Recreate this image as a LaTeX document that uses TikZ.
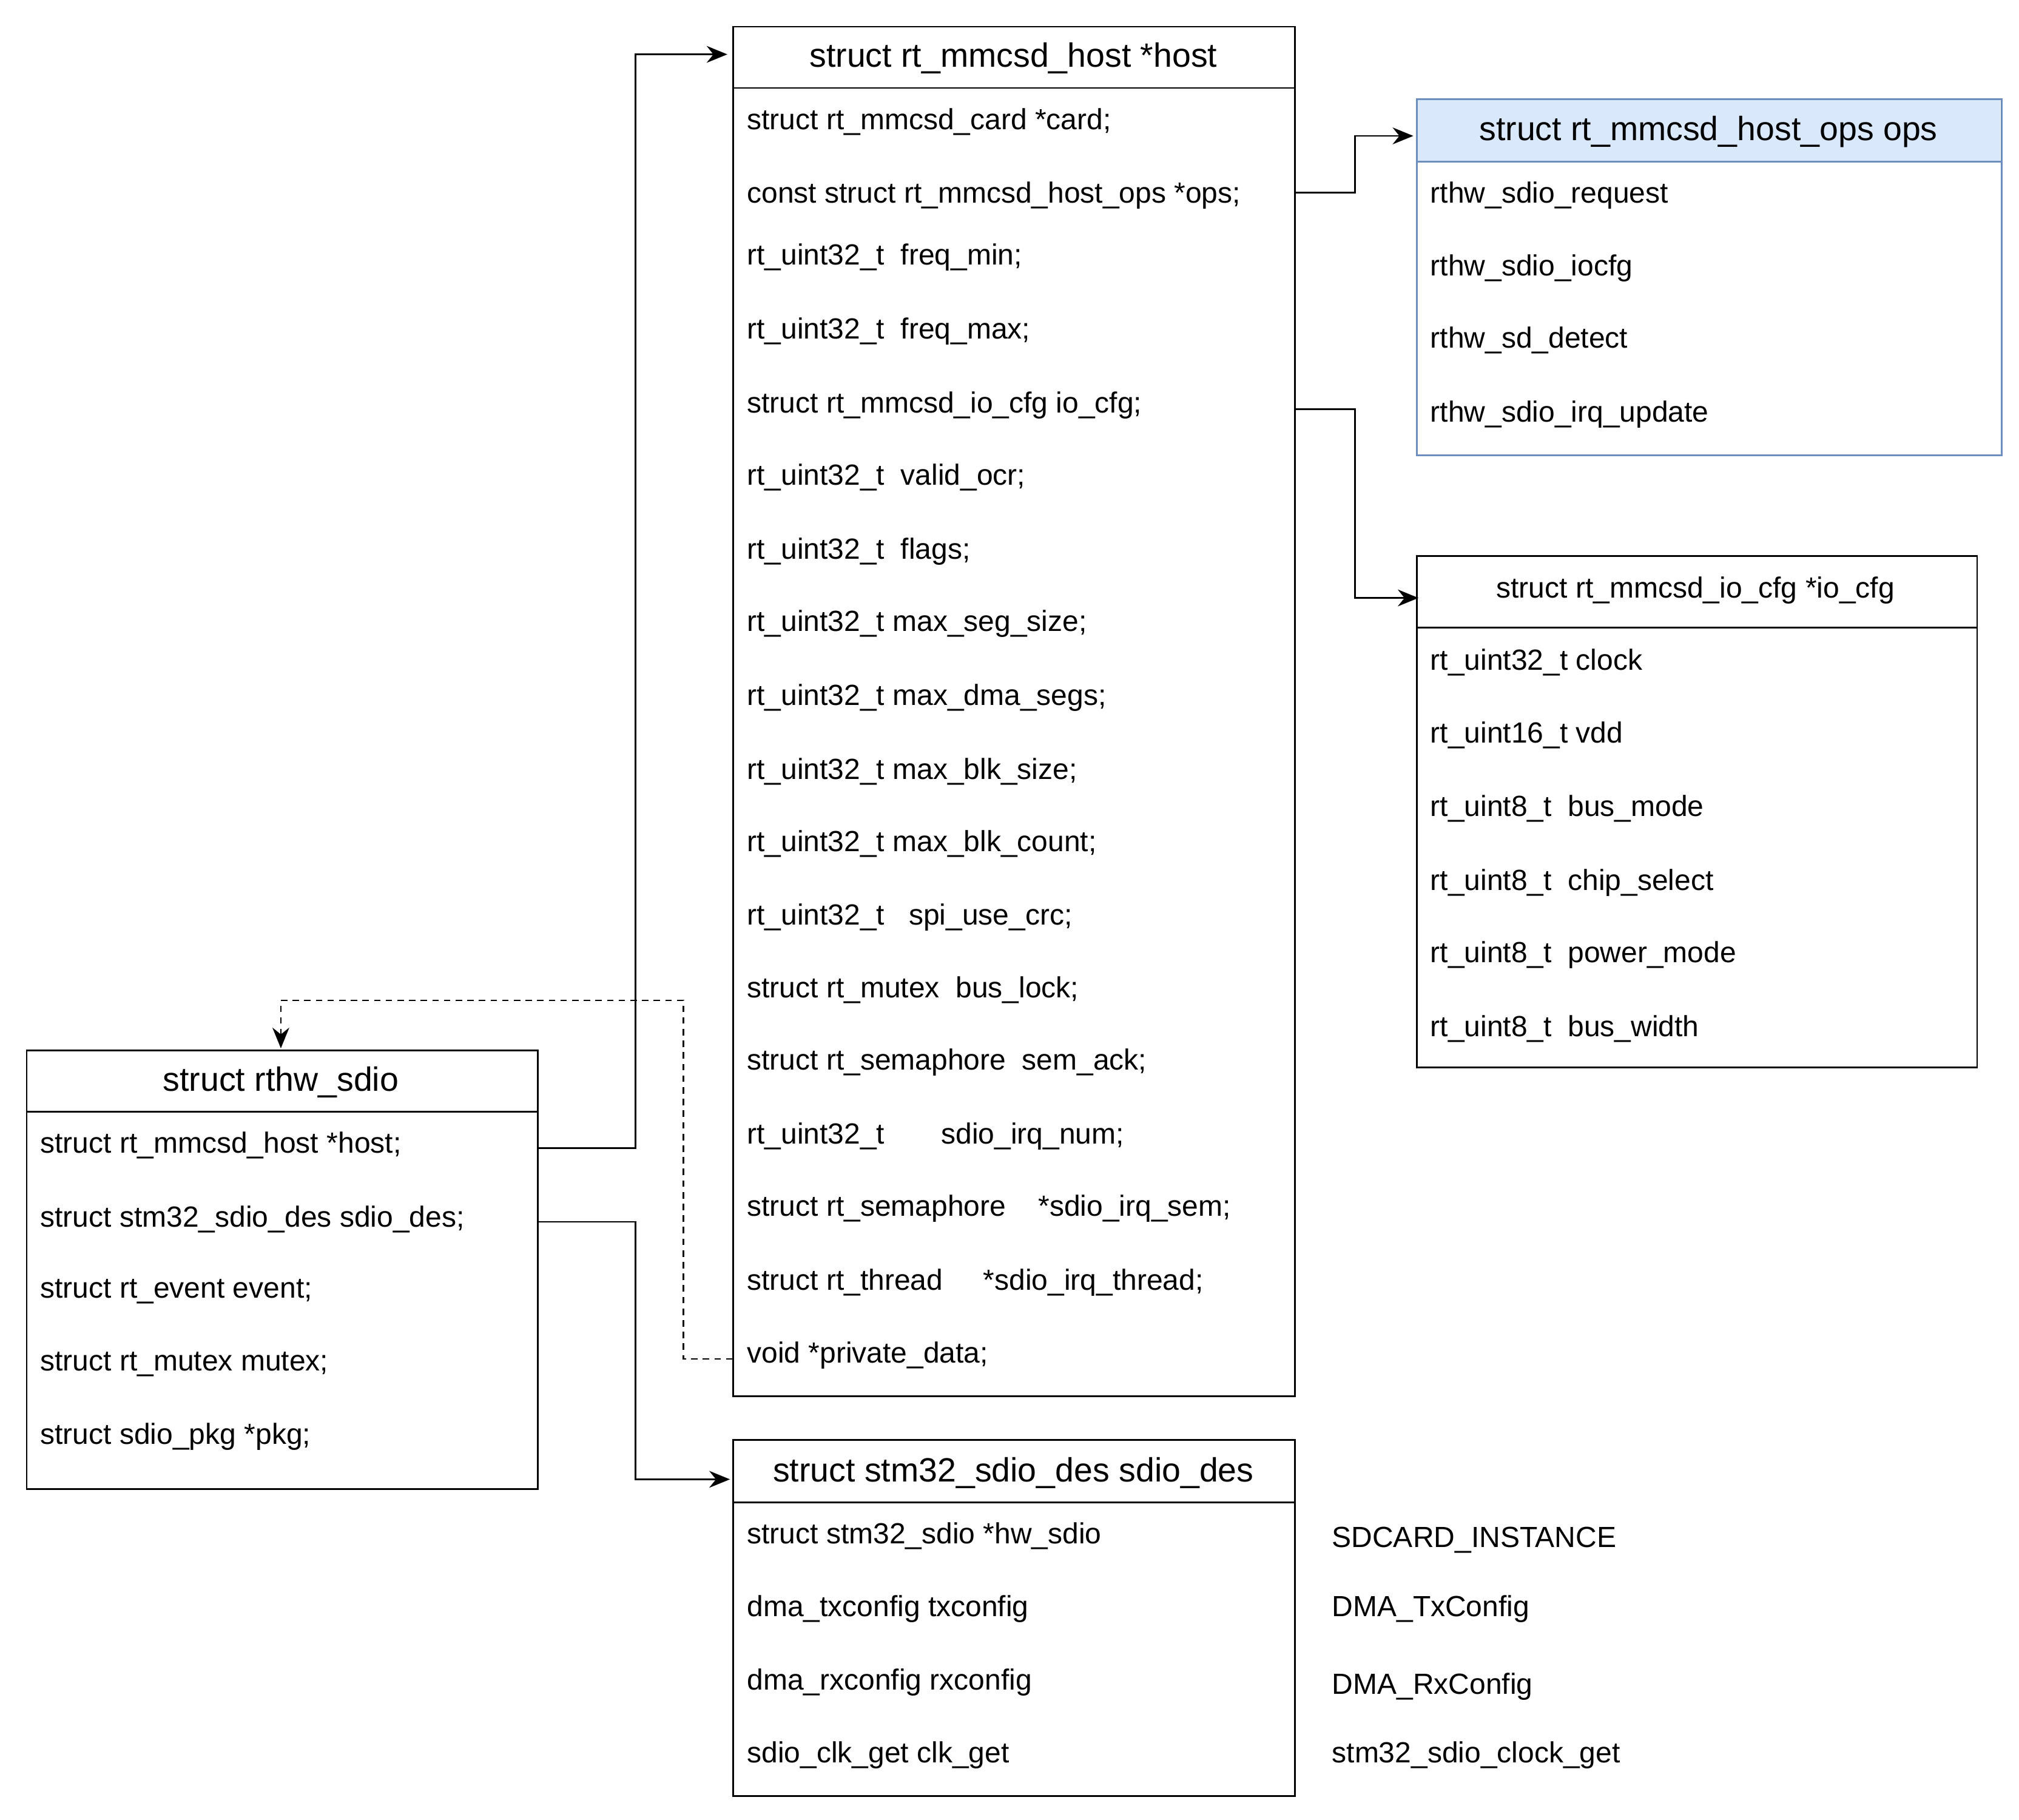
\documentclass[tikz,border=0pt]{standalone}
\usepackage{fontspec}
\setmainfont{Liberation Sans}
\usetikzlibrary{arrows.meta}
\begin{document}
\begin{tikzpicture}[x=1pt,y=-1pt,
  box/.style={draw,line width=1.3pt,inner sep=0pt,anchor=north west},
  ttl/.style={font=\fontsize{26}{30}\selectfont,anchor=center},
  row/.style={font=\fontsize{22.5}{26}\selectfont,anchor=west,inner sep=0pt},
  conn/.style={line width=1.3pt,-{Stealth[length=16pt,width=13pt]}}]
\useasboundingbox (0,0) rectangle (1560,1406);
% host
\node[box,minimum width=434pt,minimum height=1058pt] (host) at (566,20) {};
\draw[line width=1.3pt] (566,68) -- (1000,68);
\node[ttl] (hostt) at (783,45) {struct rt\_mmcsd\_host *host};
\foreach \t/\y [count=\i] in {struct rt\_mmcsd\_card *card;/94,const struct rt\_mmcsd\_host\_ops *ops;/151,rt\_uint32\_t\ \ freq\_min;/199,rt\_uint32\_t\ \ freq\_max;/256,struct rt\_mmcsd\_io\_cfg io\_cfg;/313,rt\_uint32\_t\ \ valid\_ocr;/369,rt\_uint32\_t\ \ flags;/426,rt\_uint32\_t max\_seg\_size;/482,rt\_uint32\_t max\_dma\_segs;/539,rt\_uint32\_t max\_blk\_size;/596,rt\_uint32\_t max\_blk\_count;/652,rt\_uint32\_t\ \ \ spi\_use\_crc;/709,struct rt\_mutex\ \ bus\_lock;/765,struct rt\_semaphore\ \ sem\_ack;/821,rt\_uint32\_t\ \ \ \ \ \ \ sdio\_irq\_num;/878,struct rt\_semaphore\ \ \ \ *sdio\_irq\_sem;/934,struct rt\_thread\ \ \ \ \ *sdio\_irq\_thread;/991,void *private\_data;/1047}
  \node[row] (h\i) at (577,\y) {\t};
% ops
\fill[fill={rgb,255:red,218;green,232;blue,252}] (1094.65,76.65) rectangle (1545.35,125);
\node[box,draw={rgb,255:red,108;green,142;blue,191},minimum width=452pt,minimum height=275pt] (ops) at (1094,76) {};
\draw[line width=1.3pt,draw={rgb,255:red,108;green,142;blue,191}] (1094,125) -- (1546,125);
\node[ttl] (opst) at (1320,102) {struct rt\_mmcsd\_host\_ops ops};
\foreach \t/\y [count=\i] in {rthw\_sdio\_request/151,rthw\_sdio\_iocfg/207,rthw\_sd\_detect/263,rthw\_sdio\_irq\_update/320}
  \node[row] (o\i) at (1105,\y) {\t};
% io_cfg
\node[box,minimum width=433pt,minimum height=395pt] (io) at (1094,429) {};
\draw[line width=1.3pt] (1094,485) -- (1527,485);
\node[row,anchor=center] (iot) at (1310,456) {struct rt\_mmcsd\_io\_cfg *io\_cfg};
\foreach \t/\y [count=\i] in {rt\_uint32\_t clock/512,rt\_uint16\_t vdd/568,rt\_uint8\_t\ \ bus\_mode/625,rt\_uint8\_t\ \ chip\_select/682,rt\_uint8\_t\ \ power\_mode/738,rt\_uint8\_t\ \ bus\_width/795}
  \node[row] (c\i) at (1105,\y) {\t};
% rthw_sdio
\node[box,minimum width=395pt,minimum height=339pt] (sd) at (20,811) {};
\draw[line width=1.3pt] (20,859) -- (415,859);
\node[ttl] (sdt) at (217,836) {struct rthw\_sdio};
\foreach \t/\y [count=\i] in {struct rt\_mmcsd\_host *host;/885,struct stm32\_sdio\_des sdio\_des;/942,struct rt\_event event;/998,struct rt\_mutex mutex;/1054,struct sdio\_pkg *pkg;/1110}
  \node[row] (s\i) at (31,\y) {\t};
% sdio_des
\node[box,minimum width=434pt,minimum height=275pt] (des) at (566,1112) {};
\draw[line width=1.3pt] (566,1161) -- (1000,1161);
\node[ttl] (dest) at (783,1138) {struct stm32\_sdio\_des sdio\_des};
\foreach \t/\y [count=\i] in {struct stm32\_sdio *hw\_sdio/1187,dma\_txconfig txconfig/1243,dma\_rxconfig rxconfig/1300,sdio\_clk\_get clk\_get/1356}
  \node[row] (d\i) at (577,\y) {\t};
\foreach \t/\y [count=\i] in {SDCARD\_INSTANCE/1190,DMA\_TxConfig/1243,DMA\_RxConfig/1303,stm32\_sdio\_clock\_get/1356}
  \node[row] (f\i) at (1029,\y) {\t};
% connectors
\coordinate (a1) at (415,887); \coordinate (a2) at (562,42);
\draw[conn] (a1) -- (491,887) -- (491,42) -- (a2);
\coordinate (b1) at (415,944); \coordinate (b2) at (564,1143);
\draw[conn] (b1) -- (491,944) -- (491,1143) -- (b2);
\coordinate (c1) at (1000,149); \coordinate (c2) at (1092,105);
\draw[conn] (c1) -- (1047,149) -- (1047,105) -- (c2);
\coordinate (e1) at (1000,316); \coordinate (e2) at (1096,462);
\draw[conn] (e1) -- (1047,316) -- (1047,462) -- (e2);
\coordinate (g1) at (566,1050); \coordinate (g2) at (217,810);
\draw[conn,dash pattern=on 5pt off 4pt] (g1) -- (528,1050) -- (528,773) -- (217,773) -- (g2);
\end{tikzpicture}
\end{document}
